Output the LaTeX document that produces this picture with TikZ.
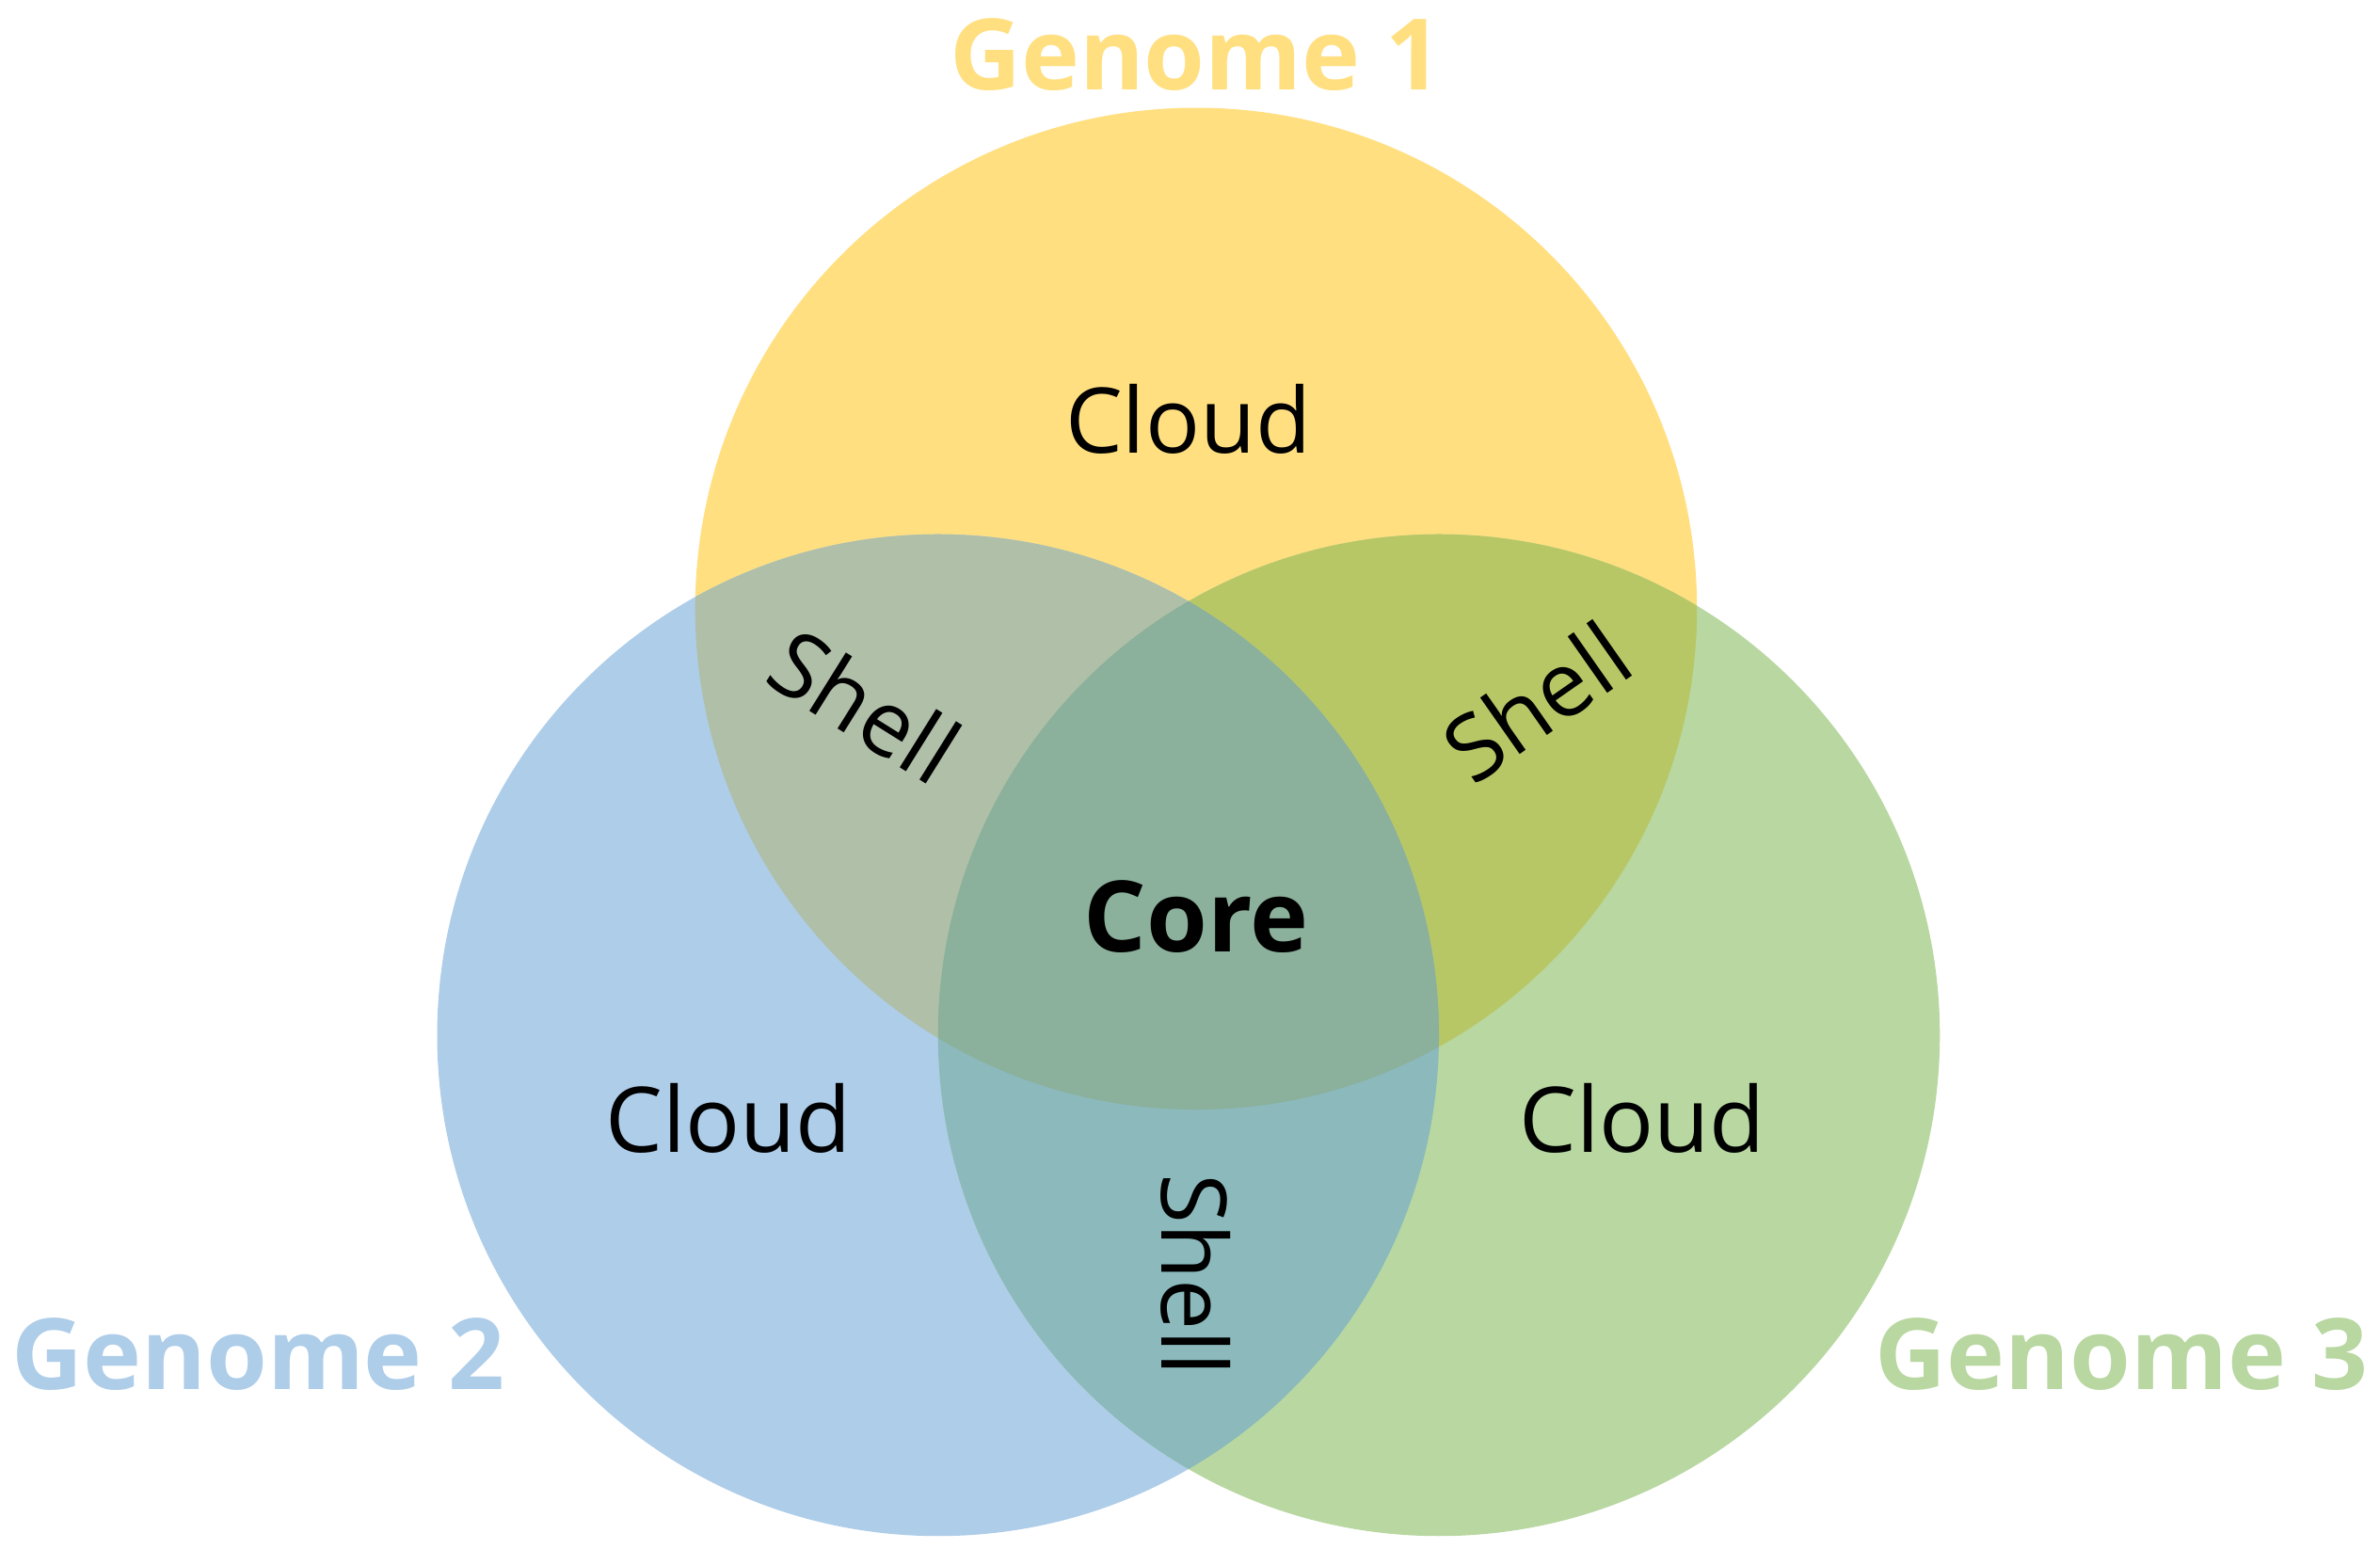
\documentclass[tikz,border=0pt]{standalone}
\usepackage{fontspec}
\setmainfont{Open Sans}
\definecolor{cy}{HTML}{FFDF80}
\definecolor{cb}{HTML}{AECDE9}
\definecolor{cg}{HTML}{B8D7A1}
\definecolor{cyb}{HTML}{AFBFA8}
\definecolor{cyg}{HTML}{B8C766}
\definecolor{cbg}{HTML}{8BB9BC}
\definecolor{ccore}{HTML}{8BB09B}
\begin{document}
\begin{tikzpicture}[x=0.02cm,y=-0.02cm,
  lab/.style={font=\fontsize{34}{38}\selectfont},
  gen/.style={font=\fontsize{37}{40}\selectfont\bfseries}]
\useasboundingbox (0,0) rectangle (1568,1020);
\def\A{(788,401) circle (330)}
\def\B{(618,682) circle (330)}
\def\C{(948,682) circle (330)}
\fill[cy] \A; \fill[cb] \B; \fill[cg] \C;
\begin{scope}\clip \A; \fill[cyb] \B; \fill[cyg] \C; \end{scope}
\begin{scope}\clip \B; \fill[cbg] \C; \end{scope}
\begin{scope}\clip \A; \clip \B; \fill[ccore] \C; \end{scope}
\node[gen,text=cy] (g1) at (788,36) {Genome 1};
\node[gen,text=cb] (g2) at (170,892) {Genome 2};
\node[gen,text=cg] (g3) at (1398,892) {Genome 3};
\node[lab] (c1) at (783,276) {Cloud};
\node[lab] (c2) at (480,737) {Cloud};
\node[lab] (c3) at (1082,737) {Cloud};
\node[lab,font=\fontsize{37}{40}\selectfont\bfseries] (core) at (788,604) {Core};
\node[lab,rotate=-32] (s1) at (570,465) {Shell};
\node[lab,rotate=35] (s2) at (1012,462) {Shell};
\node[lab,rotate=-90] (s3) at (788,840) {Shell};
\end{tikzpicture}
\end{document}
